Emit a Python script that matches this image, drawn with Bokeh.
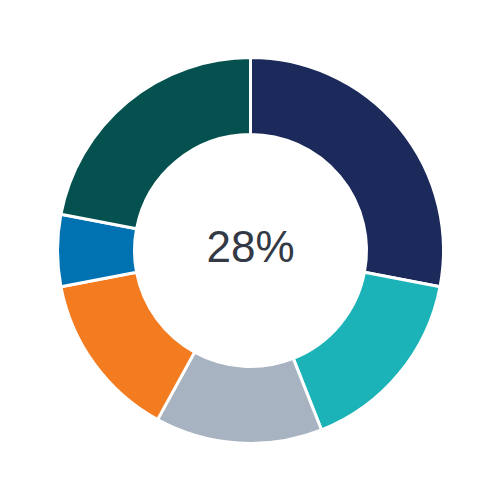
import numpy as np
from bokeh.plotting import figure
from bokeh.models import Range1d, ColumnDataSource
from bokeh.core.properties import value
from bokeh.embed import file_html
from bokeh.resources import INLINE

# Data
categories = ["A", "B", "C", "D", "E", "F"]
shares = [28, 16, 14, 14, 6, 22]
colors = ["#1c2a5b", "#1bb3b7", "#a8b3c1", "#f47c20", "#0072b1", "#04514f"]
center_label = "28%"

vals = np.array(shares, dtype=float)
frac = vals / vals.sum()
cum = np.concatenate([[0.0], np.cumsum(frac)])
start = np.pi / 2 - cum[:-1] * 2 * np.pi
end = np.pi / 2 - cum[1:] * 2 * np.pi

src = ColumnDataSource(dict(cat=categories, start=start, end=end, color=colors))

W = 500
p = figure(width=W, height=W, output_backend="svg", toolbar_location=None,
           x_range=Range1d(-W / 2, W / 2), y_range=Range1d(-W / 2, W / 2),
           min_border=0)
p.axis.visible = False
p.grid.visible = False
p.outline_line_color = None
p.background_fill_color = "white"
p.border_fill_color = "white"

p.annular_wedge(x=0, y=0, inner_radius=116, outer_radius=193,
                start_angle="start", end_angle="end", direction="clock",
                fill_color="color", line_color="white", line_width=3,
                source=src)

p.text(x=[0], y=[4], text=[center_label], text_align="center",
       text_baseline="middle", text_font=value("Liberation Sans"),
       text_font_size="44px", text_color="#333a45")

open("out.html", "w").write(file_html(p, INLINE))
